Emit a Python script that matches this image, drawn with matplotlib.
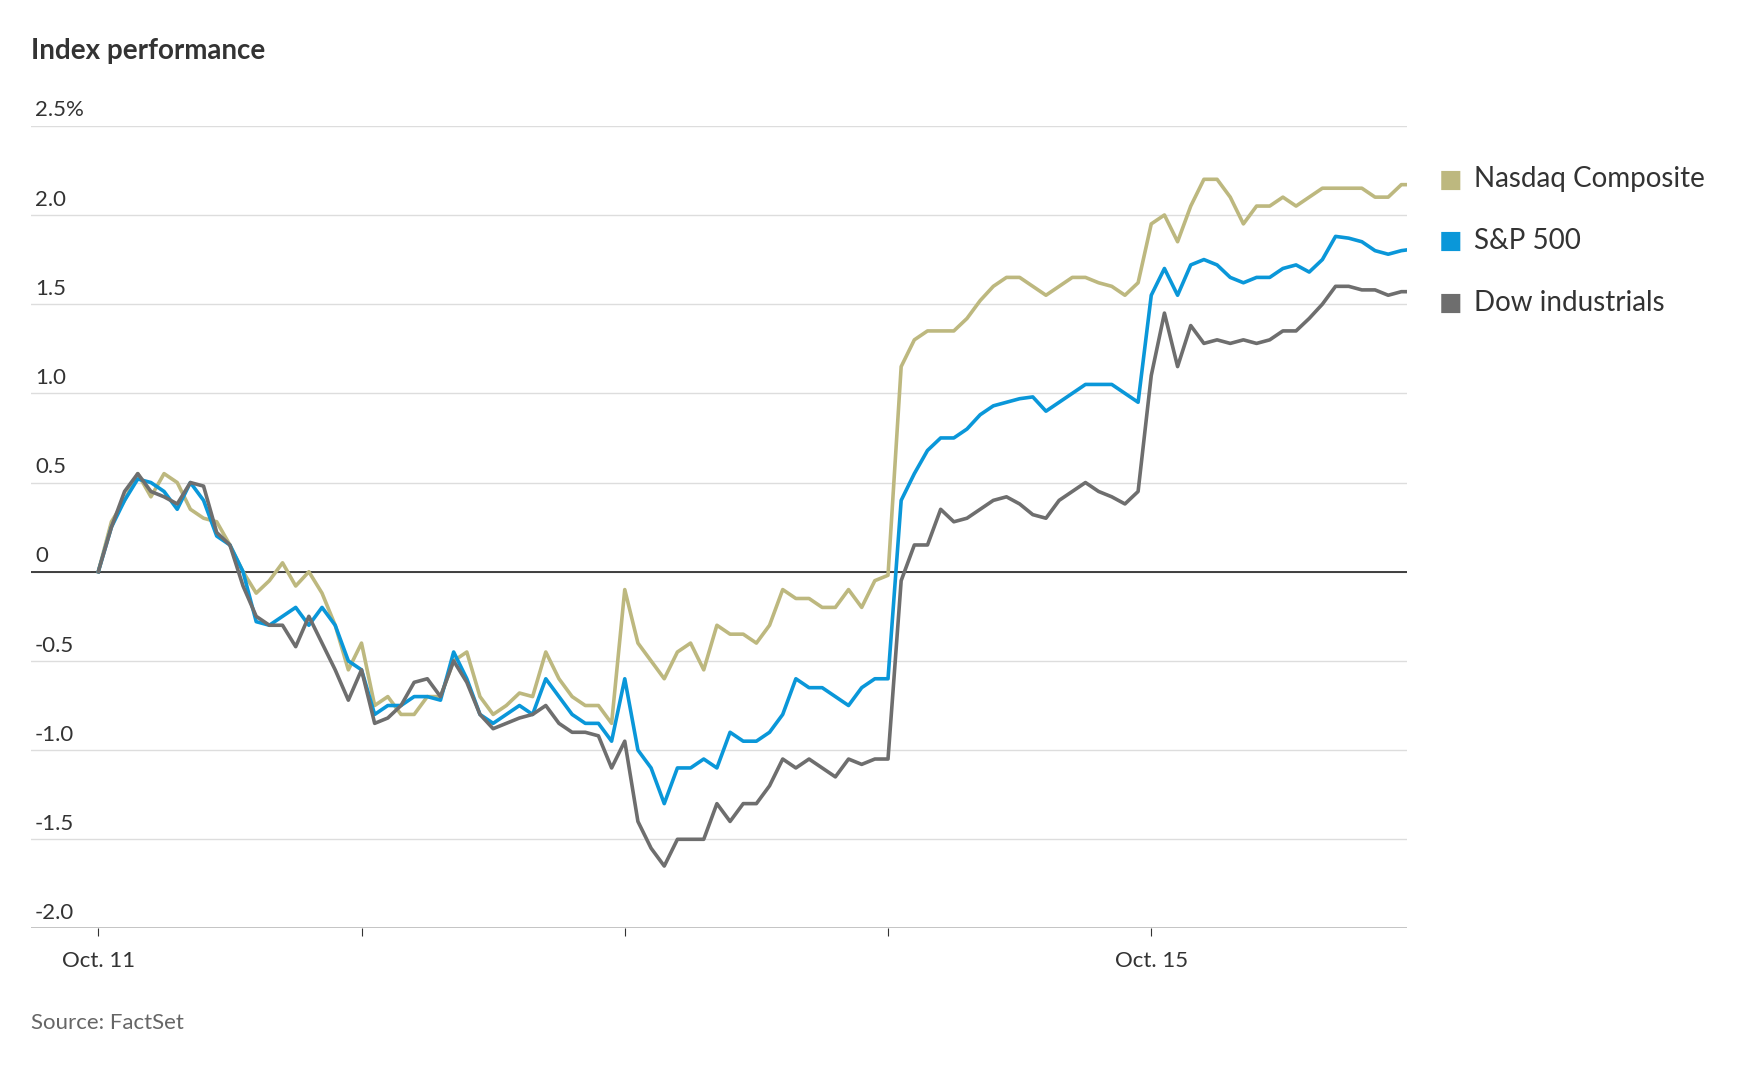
import numpy as np
import matplotlib.pyplot as plt

# values in %, sampled every 0.05 trading day starting Oct. 11
nasdaq = [0, 0.28, 0.4, 0.55, 0.42, 0.55, 0.5, 0.35, 0.3, 0.28, 0.15, 0.0, -0.12, -0.05, 0.05, -0.08, 0.0, -0.12, -0.3, -0.55,
          -0.4, -0.75, -0.7, -0.8, -0.8, -0.7, -0.7, -0.5, -0.45, -0.7, -0.8, -0.75, -0.68, -0.7, -0.45, -0.6, -0.7, -0.75, -0.75, -0.85,
          -0.1, -0.4, -0.5, -0.6, -0.45, -0.4, -0.55, -0.3, -0.35, -0.35, -0.4, -0.3, -0.1, -0.15, -0.15, -0.2, -0.2, -0.1, -0.2, -0.05,
          -0.02, 1.15, 1.3, 1.35, 1.35, 1.35, 1.42, 1.52, 1.6, 1.65, 1.65, 1.6, 1.55, 1.6, 1.65, 1.65, 1.62, 1.6, 1.55, 1.62,
          1.95, 2.0, 1.85, 2.05, 2.2, 2.2, 2.1, 1.95, 2.05, 2.05, 2.1, 2.05, 2.1, 2.15, 2.15, 2.15, 2.15, 2.1, 2.1, 2.17, 2.17]
sp500 = [0, 0.25, 0.4, 0.52, 0.5, 0.45, 0.35, 0.5, 0.4, 0.2, 0.15, 0.0, -0.28, -0.3, -0.25, -0.2, -0.3, -0.2, -0.3, -0.5,
         -0.55, -0.8, -0.75, -0.75, -0.7, -0.7, -0.72, -0.45, -0.6, -0.8, -0.85, -0.8, -0.75, -0.8, -0.6, -0.7, -0.8, -0.85, -0.85, -0.95,
         -0.6, -1.0, -1.1, -1.3, -1.1, -1.1, -1.05, -1.1, -0.9, -0.95, -0.95, -0.9, -0.8, -0.6, -0.65, -0.65, -0.7, -0.75, -0.65, -0.6,
         -0.6, 0.4, 0.55, 0.68, 0.75, 0.75, 0.8, 0.88, 0.93, 0.95, 0.97, 0.98, 0.9, 0.95, 1.0, 1.05, 1.05, 1.05, 1.0, 0.95,
         1.55, 1.7, 1.55, 1.72, 1.75, 1.72, 1.65, 1.62, 1.65, 1.65, 1.7, 1.72, 1.68, 1.75, 1.88, 1.87, 1.85, 1.8, 1.78, 1.8, 1.81]
dow = [0, 0.25, 0.45, 0.55, 0.45, 0.42, 0.38, 0.5, 0.48, 0.22, 0.15, -0.08, -0.25, -0.3, -0.3, -0.42, -0.25, -0.4, -0.55, -0.72,
       -0.55, -0.85, -0.82, -0.75, -0.62, -0.6, -0.7, -0.5, -0.62, -0.8, -0.88, -0.85, -0.82, -0.8, -0.75, -0.85, -0.9, -0.9, -0.92, -1.1,
       -0.95, -1.4, -1.55, -1.65, -1.5, -1.5, -1.5, -1.3, -1.4, -1.3, -1.3, -1.2, -1.05, -1.1, -1.05, -1.1, -1.15, -1.05, -1.08, -1.05,
       -1.05, -0.05, 0.15, 0.15, 0.35, 0.28, 0.3, 0.35, 0.4, 0.42, 0.38, 0.32, 0.3, 0.4, 0.45, 0.5, 0.45, 0.42, 0.38, 0.45,
       1.1, 1.45, 1.15, 1.38, 1.28, 1.3, 1.28, 1.3, 1.28, 1.3, 1.35, 1.35, 1.42, 1.5, 1.6, 1.6, 1.58, 1.58, 1.55, 1.57, 1.57]

series = [("Nasdaq Composite", nasdaq, "#bdb87f"),
          ("S&P 500", sp500, "#0a97d9"),
          ("Dow industrials", dow, "#6e6e6e")]
yticks = [2.5, 2.0, 1.5, 1.0, 0.5, 0, -0.5, -1.0, -1.5, -2.0]
ylabels = ["2.5%", "2.0", "1.5", "1.0", "0.5", "0", "-0.5", "-1.0", "-1.5", "-2.0"]
xticks = [0, 1, 2, 3, 4]
xlabels = ["Oct. 11", "", "", "", "Oct. 15"]

plt.rcParams['font.family'] = ['Lato', 'DejaVu Sans']
fig = plt.figure(figsize=(17.44, 10.66), dpi=100)
ax = fig.add_axes([0.018, 0.129, 0.789, 0.753])
for name, vals, col in series:
    x = np.arange(len(vals)) * 0.05
    ax.plot(x, vals, color=col, lw=2.6, solid_joinstyle='round')
ax.set_xlim(-0.254, 4.973)
ax.set_ylim(-2.0, 2.5)
for s in ax.spines.values():
    s.set_visible(False)
for t, lab in zip(yticks, ylabels):
    ax.axhline(t, color='#dddddd', lw=1, zorder=0)
    ax.text(-0.24, t + 0.03, lab, fontsize=16, color='#333333', va='bottom', ha='left')
ax.axhline(0, color='#222222', lw=1.2, zorder=1)
ax.axhline(-2.0, color='#bbbbbb', lw=1.2, zorder=1)
ax.set_yticks([])
ax.set_xticks(xticks)
ax.set_xticklabels(xlabels, fontsize=16, color='#333333')
ax.tick_params(axis='x', length=6, color='#333333', pad=10)

fig.text(0.018, 0.945, "Index performance", fontsize=20, fontweight='bold', color='#333333')
fig.text(0.018, 0.035, "Source: FactSet", fontsize=16, color='#666666')
for k, (name, vals, col) in enumerate(series):
    y = 0.832 - k * 0.058
    fig.text(0.825, y, "\u25a0", fontsize=18, color=col, va='center')
    fig.text(0.845, y, name, fontsize=20, color='#333333', va='center')

fig.savefig("out.png", dpi=100)
